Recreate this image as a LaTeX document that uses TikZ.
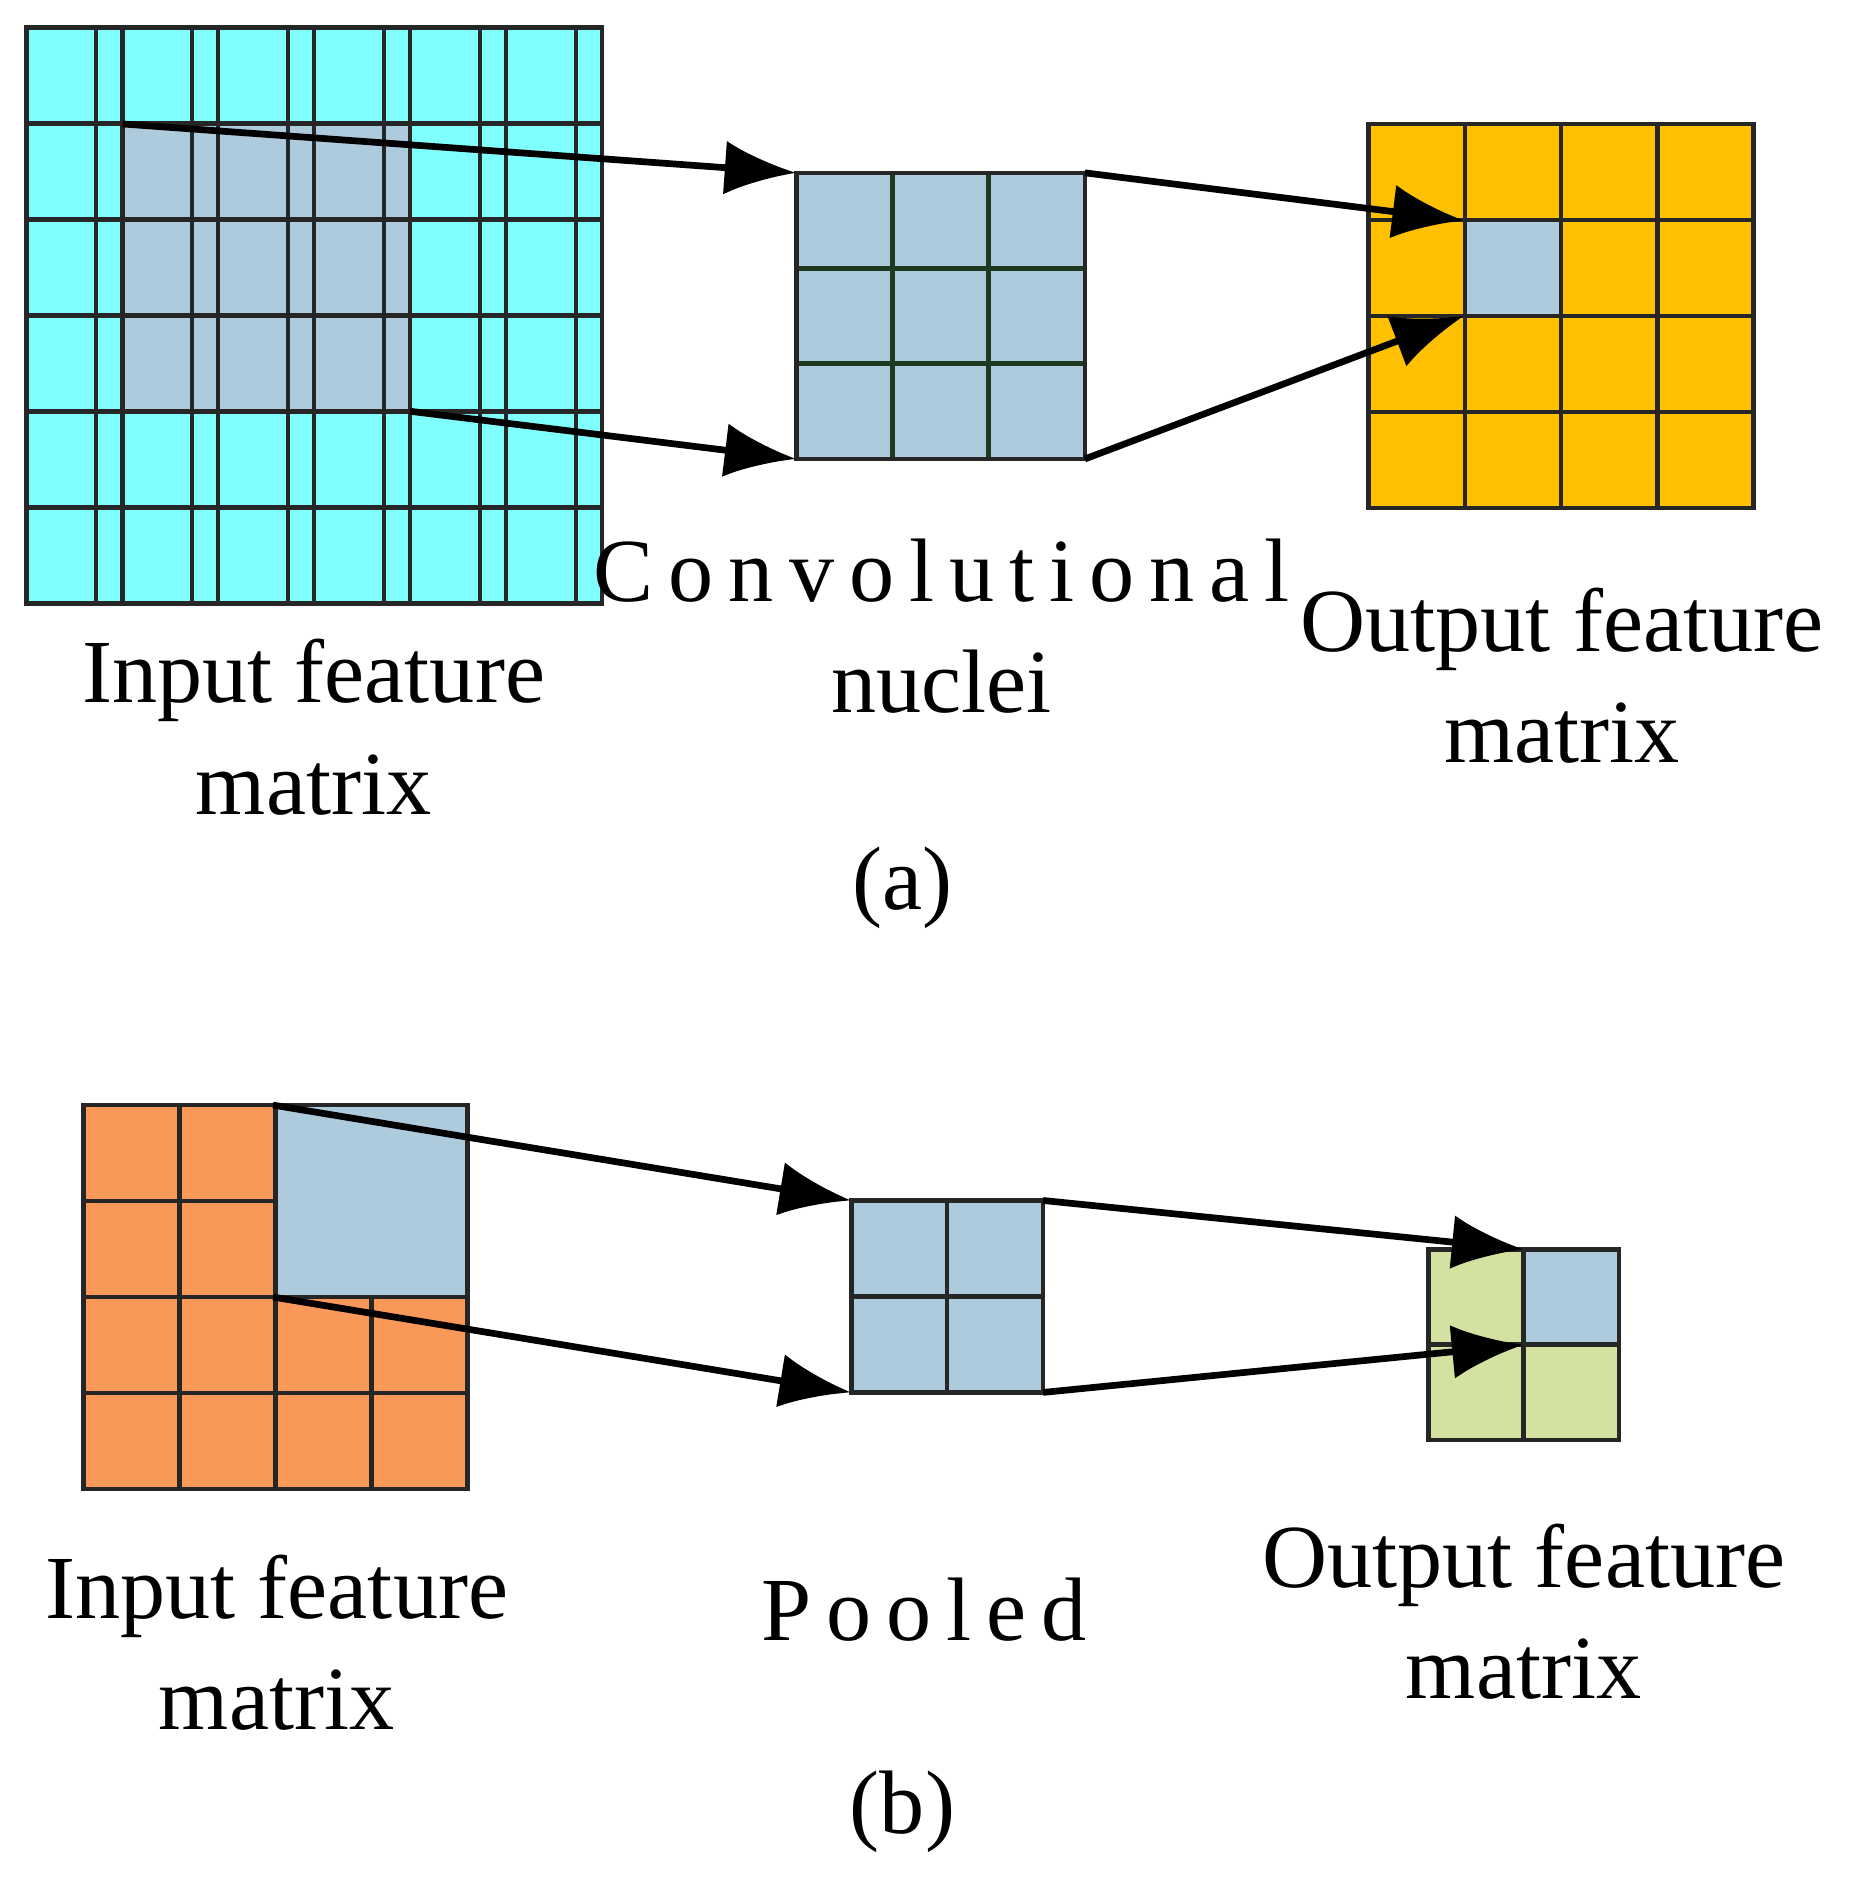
\documentclass[tikz,border=0pt]{standalone}
\usepackage{fontspec}
\setmainfont{Liberation Serif}
\usetikzlibrary{arrows.meta}
\definecolor{cyanc}{HTML}{80FFFF}
\definecolor{grayb}{HTML}{ADCBDC}
\definecolor{orangeo}{HTML}{FFC000}
\definecolor{orangeb}{HTML}{F99858}
\definecolor{greenc}{HTML}{D3E2A1}
\definecolor{kline}{HTML}{1F3A1F}
\begin{document}
\begin{tikzpicture}[x=0.01cm,y=-0.01cm,
  grid/.style={draw=black!85,line width=1.1pt},
  arr/.style={line width=1.6pt,-{Latex[length=0.6cm,width=0.45cm]}},
  lab/.style={align=center,font=\fontsize{21.5}{26.5}\selectfont,inner sep=0pt}]
\useasboundingbox (0,0) rectangle (1562,1577);
% (a) input
\fill[cyanc] (22,23) rectangle (505,506);
\fill[grayb] (103,104) rectangle (344,345);
\draw[grid,step=80.5] (22,23) grid (505,506);
\draw[grid] (22,23) rectangle (505,506);
\foreach \i in {1,...,5}{\draw[grid] (22+80.5*\i,23)--(22+80.5*\i,506); \draw[grid] (22,23+80.5*\i)--(505,23+80.5*\i);}
\coordinate (iA) at (103,104); \coordinate (iB) at (344,345);
% kernel
\fill[grayb] (668,145) rectangle (910,385);
\foreach \i in {1,2}{\draw[kline,line width=1.1pt] (668+80.7*\i,145)--(668+80.7*\i,385); \draw[kline,line width=1.1pt] (668,145+80*\i)--(910,145+80*\i);}
\draw[grid] (668,145) rectangle (910,385);
\coordinate (kTL) at (668,145); \coordinate (kBL) at (668,385);
\coordinate (kTR) at (910,145); \coordinate (kBR) at (910,385);
% output
\fill[orangeo] (1148,104) rectangle (1471,426);
\fill[grayb] (1228.5,184.5) rectangle (1309,265);
\foreach \i in {1,2,3}{\draw[grid] (1148+80.75*\i,104)--(1148+80.75*\i,426); \draw[grid] (1148,104+80.5*\i)--(1471,104+80.5*\i);}
\draw[grid] (1148,104) rectangle (1471,426);
\coordinate (oA) at (1228,185); \coordinate (oB) at (1228,265);
\draw[arr] (iA)--(kTL);
\draw[arr] (iB)--(kBL);
\draw[arr] (kTR)--(oA);
\draw[arr] (kBR)--(oB);
\node[lab] (l1) at (263,610) {Input feature\\matrix};
\node[lab] (l2) at (790,525) {C\,o\,n\,v\,o\,l\,u\,t\,i\,o\,n\,a\,l\\nuclei};
\node[lab] (l3) at (1310,567) {Output feature\\matrix};
\node[lab] (la) at (757,745) {(a)};
% (b) input
\fill[orangeb] (70,927) rectangle (392,1249);
\foreach \i in {1,2,3}{\draw[grid] (70+80.5*\i,927)--(70+80.5*\i,1249); \draw[grid] (70,927+80.5*\i)--(392,927+80.5*\i);}
\fill[grayb] (231,927) rectangle (392,1088);
\draw[grid] (231,927) rectangle (392,1088);
\draw[grid] (70,927) rectangle (392,1249);
\coordinate (bA) at (229,927); \coordinate (bB) at (229,1088);
% pooled
\fill[grayb] (714,1007) rectangle (875,1168);
\draw[grid] (794.5,1007)--(794.5,1168); \draw[grid] (714,1087.5)--(875,1087.5);
\draw[grid] (714,1007) rectangle (875,1168);
\coordinate (pTL) at (714,1007); \coordinate (pBL) at (714,1168);
\coordinate (pTR) at (875,1007); \coordinate (pBR) at (875,1168);
% output
\fill[greenc] (1198,1048) rectangle (1358,1208);
\fill[grayb] (1278,1048) rectangle (1358,1128);
\draw[grid] (1278,1048)--(1278,1208); \draw[grid] (1198,1128)--(1358,1128);
\draw[grid] (1198,1048) rectangle (1358,1208);
\coordinate (qA) at (1278,1048); \coordinate (qB) at (1278,1128);
\draw[arr] (bA)--(pTL);
\draw[arr] (bB)--(pBL);
\draw[arr] (pTR)--(qA);
\draw[arr] (pBR)--(qB);
\node[lab] (m1) at (232,1378) {Input feature\\matrix};
\node[lab] (m2) at (775,1350) {P\,o\,o\,l\,e\,d};
\node[lab] (m3) at (1278,1352) {Output feature\\matrix};
\node[lab] (mb) at (757,1520) {(b)};
\end{tikzpicture}
\end{document}
